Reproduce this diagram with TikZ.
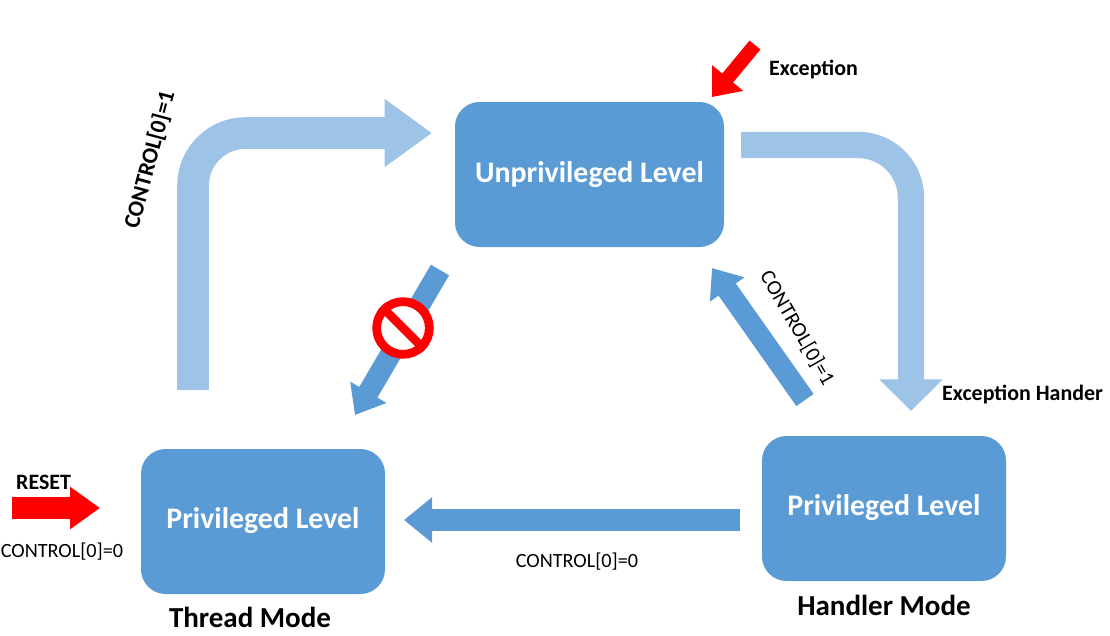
\documentclass[tikz,border=0pt]{standalone}
\usepackage{fontspec}
\setmainfont{Carlito}
\usetikzlibrary{arrows.meta}
\definecolor{dark}{HTML}{5B9BD5}
\definecolor{light}{HTML}{9DC3E6}
\definecolor{rd}{HTML}{FF0000}
\begin{document}
\begin{tikzpicture}[x=0.02cm,y=-0.02cm,
  box/.style={fill=dark,rounded corners=14pt},
  btxt/.style={text=white,font=\bfseries\fontsize{17}{20}\selectfont},
  lbl/.style={font=\fontsize{11}{13}\selectfont},
  blbl/.style={font=\bfseries\fontsize{12.5}{15}\selectfont},
  big/.style={font=\bfseries\fontsize{16.5}{19}\selectfont}]
\useasboundingbox (0,0) rectangle (1110,636);
% boxes
\path[box] (455,102) rectangle (724,247);
\node[btxt] (u) at (589.5,174.5) {Unprivileged Level};
\path[box] (141,449) rectangle (385,594);
\node[btxt] (t) at (263,521) {Privileged Level};
\path[box] (762,436) rectangle (1006,581);
\node[btxt] (h) at (884,508) {Privileged Level};
% light arrows
\draw[light,line width=18pt,rounded corners=30pt,-{Triangle[length=27pt,width=37pt]}] (193,390) -- (193,133) -- (432,133);
\draw[light,line width=15pt,rounded corners=30pt,-{Triangle[length=18pt,width=35pt]}] (741,145) -- (911,145) -- (911,411);
% dark arrows
\draw[dark,line width=12pt,-{Triangle[length=15pt,width=23pt]}] (440,270) -- (355,415);
\draw[dark,line width=12pt,-{Triangle[length=15pt,width=23pt]}] (805,400) -- (712,268);
\draw[dark,line width=12pt,-{Triangle[length=16pt,width=25pt]}] (740,520) -- (404,520);
% no sign
\node[circle,draw=rd,line width=5pt,fill=white,minimum size=30pt,inner sep=0] (ns) at (403,328) {};
\draw[rd,line width=5pt] (ns.135) -- (ns.-45);
% red arrows
\draw[rd,line width=13pt,-{Triangle[length=17pt,width=23pt]}] (12,508) -- (100,508);
\draw[rd,line width=8pt,-{Triangle[length=14pt,width=22pt]}] (755,45) -- (712,97);
% labels
\node[blbl,font=\bfseries\fontsize{13}{15}\selectfont,rotate=75] (c1) at (150,160) {CONTROL[0]=1};
\node[blbl,anchor=west] (ex) at (763,70) {Exception};
\node[lbl,font=\fontsize{12}{14}\selectfont,rotate=-60] (c2) at (797,328) {CONTROL[0]=1};
\node[blbl,anchor=west] (eh) at (936,395) {Exception Hander};
\node[blbl,anchor=west] (rs) at (10,482) {RESET};
\node[lbl,font=\fontsize{11.5}{14}\selectfont] (c3) at (62,552) {CONTROL[0]=0};
\node[lbl,font=\fontsize{11.5}{14}\selectfont] (c4) at (577,562) {CONTROL[0]=0};
\node[big] (tm) at (250,617) {Thread Mode};
\node[big] (hm) at (884,605) {Handler Mode};
\end{tikzpicture}
\end{document}
